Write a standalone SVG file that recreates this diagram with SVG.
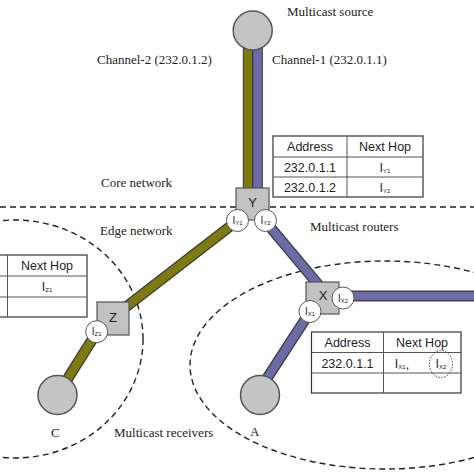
<svg xmlns="http://www.w3.org/2000/svg" width="474" height="474" viewBox="0 0 474 474">
<style>
.lbl{font-family:"Liberation Serif",serif;font-size:13px;fill:#222}
.tt{font-family:"Liberation Sans",Arial,sans-serif;font-size:12.5px;fill:#222;text-anchor:middle}
.rt{font-family:"Liberation Sans",Arial,sans-serif;font-size:13px;fill:#222;text-anchor:middle}
.ift{font-family:"Liberation Sans",Arial,sans-serif;font-size:10px;fill:#222;text-anchor:middle}
.sub{font-size:6px}
.host{fill:#c4c4c4;stroke:#555;stroke-width:1.5}
.rtr{fill:#c2c2c2;stroke:#555;stroke-width:1.2}
.ifc{fill:#fff;stroke:#555;stroke-width:1}
.edge{stroke:#3a3a3a;stroke-width:11;fill:none}
.olive{stroke:#7d7a10;stroke-width:8.5;fill:none}
.blue{stroke:#6b6ba8;stroke-width:8.5;fill:none}
.dash{fill:none;stroke:#222;stroke-width:1.4;stroke-dasharray:6 4}
.tbl{fill:#fff;stroke:#333;stroke-width:1.2}
.grid{stroke:#555;stroke-width:1}
</style>

<!-- region boundaries -->
<g id="regions">
<line class="dash" x1="0" y1="207" x2="474" y2="207"/>
<ellipse class="dash" cx="15" cy="339" rx="128" ry="119"/>
<ellipse class="dash" cx="385" cy="365" rx="195" ry="104"/>
</g>

<!-- connectors -->
<g id="connectors">
<rect x="243.3" y="40" width="9.5" height="152" fill="#7d7a10" stroke="#333" stroke-width="1"/>
<rect x="252.8" y="40" width="9.5" height="152" fill="#6b6ba8" stroke="#333" stroke-width="1"/>
<path class="edge" d="M237 221 L122 310"/>
<path class="olive" d="M237 221 L122 310"/>
<path class="edge" d="M97 332 L58 394"/>
<path class="olive" d="M97 332 L58 394"/>
<path class="edge" d="M265 221 L327 295"/>
<path class="blue" d="M265 221 L327 295"/>
<path class="edge" d="M345 296 L476 296"/>
<path class="blue" d="M345 296 L476 296"/>
<path class="edge" d="M310 312 L262 386"/>
<path class="blue" d="M310 312 L262 386"/>
</g>

<!-- hosts -->
<g id="source">
<circle class="host" cx="252.7" cy="30.5" r="19.5"/>
</g>
<g id="C">
<circle class="host" cx="57.5" cy="395" r="19.5"/>
</g>
<g id="A">
<circle class="host" cx="260" cy="395" r="19.5"/>
</g>

<!-- routers -->
<g id="Y">
<rect class="rtr" x="236" y="188" width="33" height="32"/>
<text class="rt" x="252.5" y="207">Y</text>
<circle class="ifc" cx="237.5" cy="220.5" r="11"/>
<text class="ift" x="237.5" y="224">I<tspan class="sub" dy="1">Y1</tspan></text>
<circle class="ifc" cx="265.5" cy="220.5" r="11"/>
<text class="ift" x="265.5" y="224">I<tspan class="sub" dy="1">Y2</tspan></text>
</g>
<g id="X">
<rect class="rtr" x="306" y="282" width="33" height="32"/>
<text class="rt" x="323" y="300">X</text>
<circle class="ifc" cx="343" cy="298" r="11"/>
<text class="ift" x="343" y="301.5">I<tspan class="sub" dy="1">X2</tspan></text>
<circle class="ifc" cx="310" cy="311.5" r="11"/>
<text class="ift" x="310" y="315">I<tspan class="sub" dy="1">X1</tspan></text>
</g>
<g id="Z">
<rect class="rtr" x="97" y="302" width="32" height="33"/>
<text class="rt" x="113" y="322">Z</text>
<circle class="ifc" cx="96.7" cy="331.7" r="11"/>
<text class="ift" x="96.7" y="335.2">I<tspan class="sub" dy="1">Z1</tspan></text>
</g>

<!-- routing tables -->
<g id="tableY">
<rect class="tbl" x="273" y="136" width="150" height="61"/>
<line class="grid" x1="273" y1="157" x2="423" y2="157"/>
<line class="grid" x1="273" y1="177" x2="423" y2="177"/>
<line class="grid" x1="347" y1="136" x2="347" y2="197"/>
<text class="tt" x="310" y="151">Address</text>
<text class="tt" x="385" y="151">Next Hop</text>
<text class="tt" x="310" y="171.5">232.0.1.1</text>
<text class="tt" x="385" y="171.5">I<tspan class="sub" dy="1">Y1</tspan></text>
<text class="tt" x="310" y="191.5">232.0.1.2</text>
<text class="tt" x="385" y="191.5">I<tspan class="sub" dy="1">Y2</tspan></text>
</g>
<g id="tableX">
<rect class="tbl" x="311.5" y="332" width="149.5" height="61"/>
<line class="grid" x1="311.5" y1="352.5" x2="461" y2="352.5"/>
<line class="grid" x1="311.5" y1="373" x2="461" y2="373"/>
<line class="grid" x1="383.5" y1="332" x2="383.5" y2="393"/>
<text class="tt" x="347.5" y="347">Address</text>
<text class="tt" x="422" y="347">Next Hop</text>
<text class="tt" x="347.5" y="367.5">232.0.1.1</text>
<text class="tt" x="402" y="367.5">I<tspan class="sub" dy="1">X1</tspan>,</text>
<text class="tt" x="441" y="367.5">I<tspan class="sub" dy="1">X2</tspan></text>
<ellipse cx="441" cy="364" rx="11.5" ry="13.5" fill="none" stroke="#333" stroke-width="1" stroke-dasharray="1.5 1.5"/>
</g>
<g id="tableZ">
<rect class="tbl" x="-20" y="255" width="107" height="62"/>
<line class="grid" x1="-20" y1="276" x2="87" y2="276"/>
<line class="grid" x1="-20" y1="297" x2="87" y2="297"/>
<line class="grid" x1="7.5" y1="255" x2="7.5" y2="317"/>
<text class="tt" x="47" y="270">Next Hop</text>
<text class="tt" x="47" y="291">I<tspan class="sub" dy="1">Z1</tspan></text>
</g>

<!-- labels -->
<g id="labels">
<text class="lbl" x="287" y="16">Multicast source</text>
<text class="lbl" x="272" y="64">Channel-1 (232.0.1.1)</text>
<text class="lbl" x="97" y="64">Channel-2 (232.0.1.2)</text>
<text class="lbl" x="101" y="187">Core network</text>
<text class="lbl" x="100" y="235">Edge network</text>
<text class="lbl" x="310" y="231">Multicast routers</text>
<text class="lbl" x="114" y="437">Multicast receivers</text>
<text class="lbl" x="51" y="437">C</text>
<text class="lbl" x="250" y="436">A</text>
</g>
</svg>
